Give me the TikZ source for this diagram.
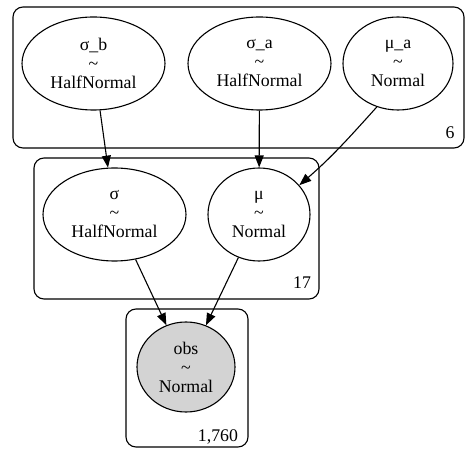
\documentclass[tikz,border=0pt]{standalone}
\usepackage{fontspec}
\setmainfont{Liberation Serif}
\usetikzlibrary{shapes.geometric,arrows.meta}

\definecolor{obsgrey}{HTML}{D3D3D3}

\tikzset{
  rv/.style={ellipse, draw, line width=1.1pt, inner sep=0pt, align=center,
    minimum width=143pt, minimum height=93pt},
  plate/.style={rectangle, draw, line width=1.1pt, rounded corners=10pt, inner sep=0pt},
  platelabel/.style={inner sep=0pt},
  edge/.style={line width=1.1pt, -{Triangle[length=12pt,width=9pt]}}
}

\begin{document}
\begin{tikzpicture}[x=1pt, y=-1pt, font=\fontsize{17.8}{19}\selectfont]
      \useasboundingbox (0,0) rectangle (474,462);

      % Plates
      \node (plate6) at (238.5,77.5) [plate, minimum width=451pt, minimum height=141pt] {};
      \node (plate17) at (176.5,228.5) [plate, minimum width=285pt, minimum height=141pt] {};
      \node (plateobs) at (187,378) [plate, minimum width=122pt, minimum height=138pt] {};

      \node (lab6) at (450,133) [platelabel] {6};
      \node (lab17) at (302,283) [platelabel] {17};
      \node (labobs) at (218,437) [platelabel] {1,760};

      % Nodes
      \node (sigmab) at (93.5,63.5) [rv] {σ\_b\\\textasciitilde\\HalfNormal};
      \node (sigmaa) at (259.5,63.5) [rv] {σ\_a\\\textasciitilde\\HalfNormal};
      \node (mua) at (398,63.5) [rv, minimum width=110pt] {μ\_a\\\textasciitilde\\Normal};

      \node (sigma) at (114.5,214.5) [rv] {σ\\\textasciitilde\\HalfNormal};
      \node (mu) at (259,214.5) [rv, minimum width=102pt] {μ\\\textasciitilde\\Normal};

      \node (obs) at (186,367) [rv, fill=obsgrey, minimum width=98pt, minimum height=90pt] {obs\\\textasciitilde\\Normal};

      % Edges
      \draw[edge] (sigmab) -- (sigma);
      \draw[edge] (sigmaa) -- (mu);
      \draw[edge] (mua.244) to [out=228,in=41] (mu.36);
      \draw[edge] (sigma) -- (obs);
      \draw[edge] (mu) -- (obs);
  \end{tikzpicture}
\end{document}
